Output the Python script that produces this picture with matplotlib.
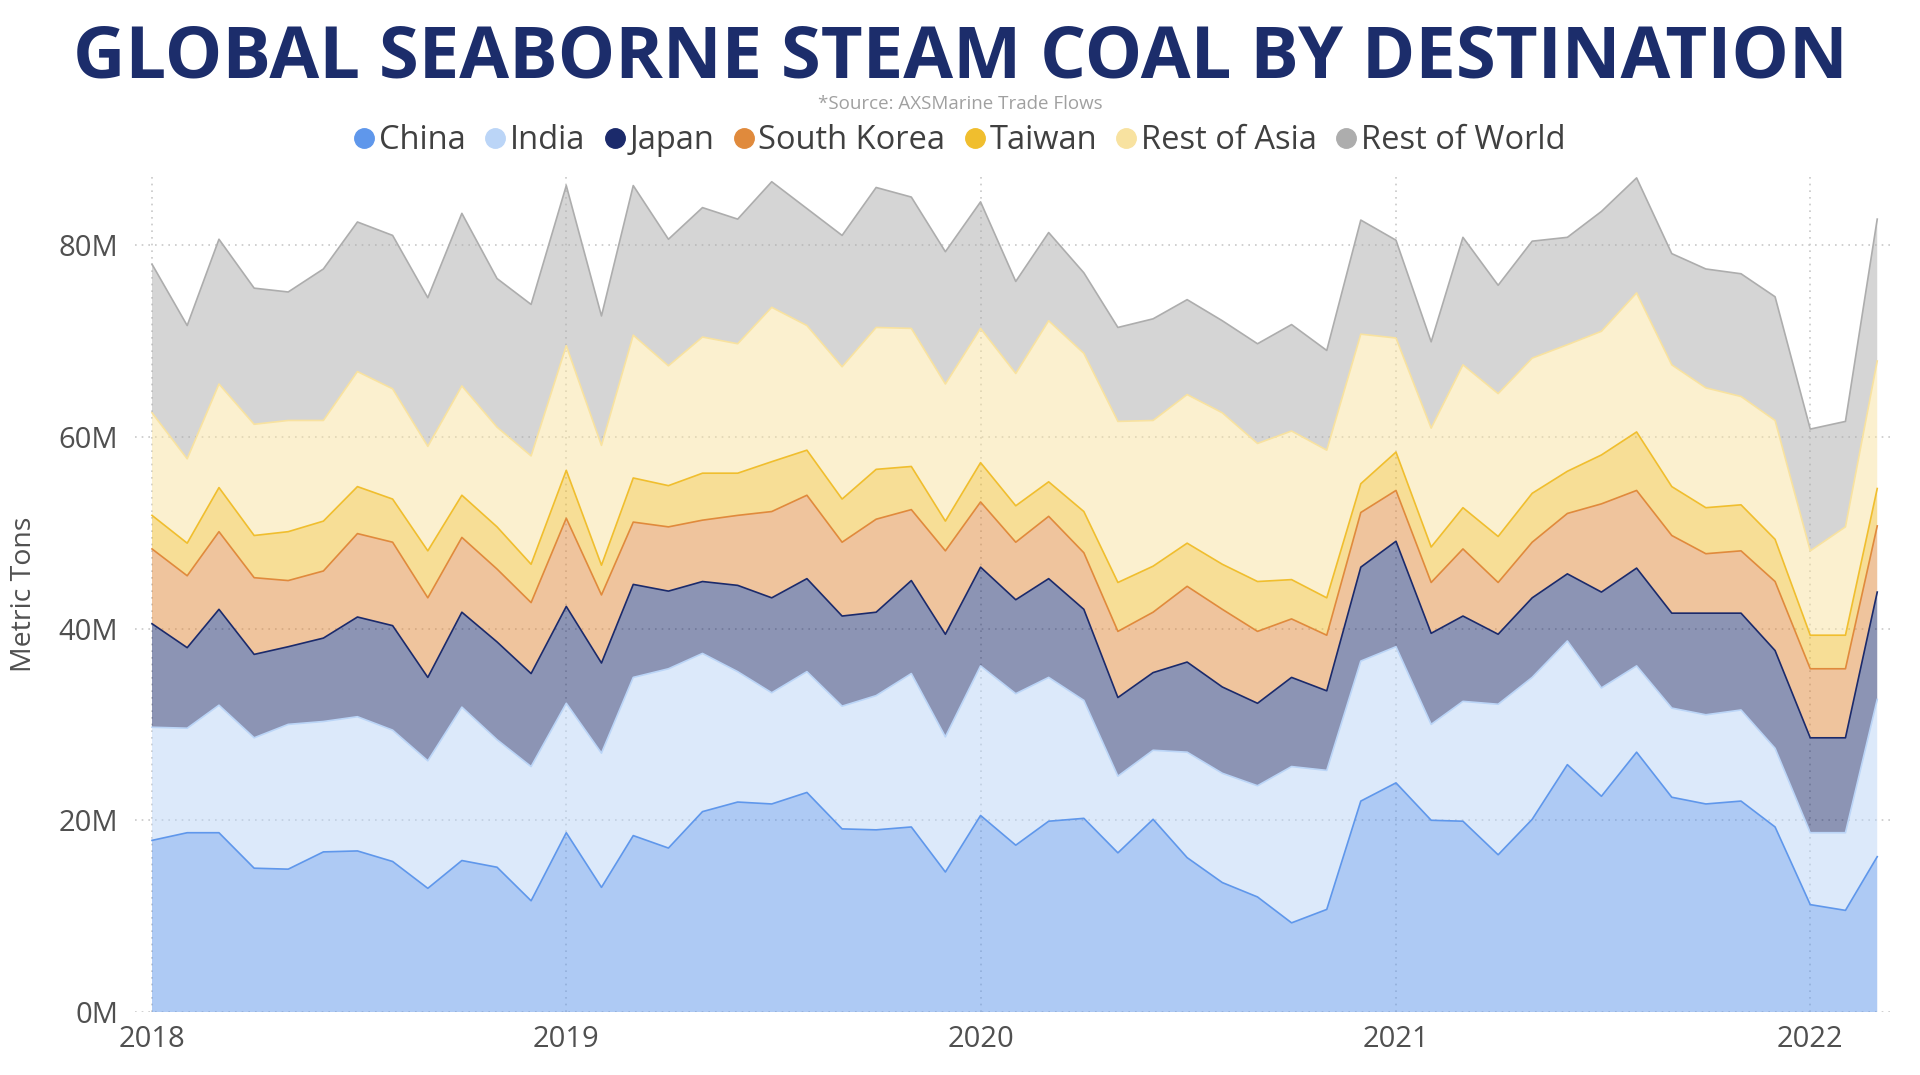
import matplotlib.pyplot as plt
import matplotlib.dates as mdates
from matplotlib.lines import Line2D
import numpy as np
import pandas as pd

# monthly data, Jan 2018 - Mar 2022, million metric tons
months = pd.date_range("2018-01-01", periods=51, freq="MS")

china = [17.9, 18.7, 18.7, 15.0, 14.9, 16.7, 16.8, 15.7, 12.9, 15.8, 15.1, 11.6,
         18.7, 13.0, 18.4, 17.1, 20.9, 21.9, 21.7, 22.9, 19.1, 19.0, 19.3, 14.6,
         20.5, 17.4, 19.9, 20.2, 16.6, 20.1, 16.1, 13.5, 12.0, 9.3, 10.7, 22.0,
         23.9, 20.0, 19.9, 16.4, 20.1, 25.8, 22.5, 27.1, 22.4, 21.7, 22.0, 19.3,
         11.2, 10.6, 16.2]
india = [11.8, 10.9, 13.3, 13.6, 15.1, 13.6, 14.0, 13.7, 13.3, 16.0, 13.3, 14.0,
         13.5, 14.0, 16.5, 18.7, 16.5, 13.6, 11.6, 12.6, 12.8, 14.0, 16.0, 14.1,
         15.6, 15.8, 15.0, 12.3, 8.0, 7.2, 11.0, 11.4, 11.6, 16.3, 14.5, 14.6,
         14.2, 10.0, 12.5, 15.7, 14.8, 12.9, 11.3, 9.0, 9.3, 9.3, 9.5, 8.2,
         7.5, 8.1, 16.4]
japan = [10.8, 8.4, 10.0, 8.7, 8.1, 8.7, 10.4, 10.9, 8.7, 9.9, 10.2, 9.7,
         10.1, 9.4, 9.7, 8.1, 7.5, 9.0, 9.9, 9.7, 9.4, 8.7, 9.7, 10.7,
         10.3, 9.8, 10.3, 9.5, 8.2, 8.1, 9.4, 9.0, 8.6, 9.3, 8.3, 9.8,
         11.0, 9.5, 8.9, 7.3, 8.3, 7.0, 10.0, 10.2, 9.9, 10.6, 10.1, 10.2,
         9.9, 9.9, 11.2]
south_korea = [7.8, 7.5, 8.1, 8.0, 6.9, 7.0, 8.7, 8.7, 8.3, 7.8, 7.6, 7.4,
               9.2, 7.1, 6.5, 6.7, 6.4, 7.3, 9.0, 8.7, 7.7, 9.7, 7.4, 8.7,
               6.8, 6.0, 6.5, 5.9, 6.9, 6.3, 7.9, 8.1, 7.5, 6.1, 5.8, 5.7,
               5.3, 5.3, 7.0, 5.4, 5.8, 6.3, 9.2, 8.1, 8.1, 6.2, 6.5, 7.2,
               7.2, 7.2, 6.9]
taiwan = [3.5, 3.4, 4.6, 4.4, 5.1, 5.2, 4.9, 4.5, 4.9, 4.4, 4.4, 4.0,
          5.0, 3.1, 4.6, 4.3, 4.9, 4.4, 5.2, 4.7, 4.5, 5.2, 4.5, 3.1,
          4.1, 3.8, 3.6, 4.3, 5.1, 4.8, 4.5, 4.7, 5.2, 4.1, 3.9, 3.0,
          4.0, 3.7, 4.3, 4.8, 5.1, 4.4, 5.1, 6.1, 5.1, 4.8, 4.8, 4.4,
          3.5, 3.5, 3.9]
rest_of_asia = [10.7, 8.8, 10.8, 11.6, 11.6, 10.5, 12.0, 11.5, 10.9, 11.4, 10.4, 11.3,
                13.0, 12.5, 14.9, 12.5, 14.2, 13.5, 16.1, 13.0, 13.8, 14.8, 14.4, 14.3,
                14.0, 13.8, 16.8, 16.5, 16.8, 15.2, 15.5, 15.8, 14.4, 15.5, 15.4, 15.6,
                11.9, 12.4, 14.9, 14.9, 14.1, 13.2, 12.9, 14.5, 12.7, 12.5, 11.3, 12.4,
                8.8, 11.3, 13.3]
rest_of_world = [15.5, 13.9, 15.1, 14.2, 13.4, 15.8, 15.6, 16.0, 15.5, 18.0, 15.5, 15.8,
                 16.7, 13.5, 15.6, 13.2, 13.5, 13.0, 13.1, 12.2, 13.7, 14.6, 13.7, 13.8,
                 13.2, 9.6, 9.2, 8.4, 9.8, 10.6, 9.9, 9.6, 10.4, 11.1, 10.4, 11.9,
                 10.2, 9.0, 13.3, 11.3, 12.2, 11.2, 12.5, 12.0, 11.6, 12.4, 12.8, 12.9,
                 12.7, 11.0, 14.8]

names = ["China", "India", "Japan", "South Korea", "Taiwan", "Rest of Asia", "Rest of World"]
colors = ["#5F97EB", "#BBD5F7", "#1B2A6B", "#E08A3C", "#F0BE2E", "#F8E2A0", "#ADADAD"]
series = [china, india, japan, south_korea, taiwan, rest_of_asia, rest_of_world]

plt.rcParams['font.family'] = ['Open Sans', 'DejaVu Sans']

fig = plt.figure(figsize=(19.2, 10.75), dpi=100)
ax = fig.add_axes([0.0703, 0.0586, 0.9157, 0.7786])

ax.stackplot(months, *series, colors=colors, alpha=0.5, linewidth=0)
tops = np.cumsum(np.array(series), axis=0)
for top, c in zip(tops, colors):
    ax.plot(months, top, color=c, lw=1.2, clip_on=False)

ax.set_xlim(pd.Timestamp("2017-12-17"), pd.Timestamp("2022-03-15"))
ax.set_ylim(0, 87.3)
ax.set_yticks([0, 20, 40, 60, 80])
ax.set_yticklabels([f"{v}M" for v in [0, 20, 40, 60, 80]])
ax.xaxis.set_major_locator(mdates.YearLocator())
ax.xaxis.set_major_formatter(mdates.DateFormatter("%Y"))

ax.grid(True, linestyle=(0, (1, 3)), color="#C8C8C8", linewidth=1.2)
ax.set_axisbelow(True)
for s in ax.spines.values():
    s.set_visible(False)
ax.tick_params(axis='both', length=0, labelsize=21, colors="#505050")
ax.tick_params(axis='y', pad=12)
ax.tick_params(axis='x', pad=9)

fig.text(0.0125, 0.447, "Metric Tons", rotation=90, ha='center', va='center',
         fontsize=20.5, color="#505050")

fig.text(0.5, 0.946, "GLOBAL SEABORNE STEAM COAL BY DESTINATION", ha='center', va='center',
         fontsize=52, fontweight='bold', color="#1C2D6B")
fig.text(0.5, 0.903, "*Source: AXSMarine Trade Flows", ha='center', va='center',
         fontsize=13.5, color="#A0A0A0")

handles = [Line2D([0], [0], linestyle='none', marker='o', markersize=14,
                  markerfacecolor=c, markeredgecolor=c) for c in colors]
fig.legend(handles, names, loc='center', bbox_to_anchor=(0.5, 0.869), ncol=7,
           frameon=False, fontsize=23.5, handlelength=0.6, handletextpad=0.15,
           columnspacing=0.6, labelcolor="#404040")

fig.savefig("out.png", dpi=100, facecolor="white")
